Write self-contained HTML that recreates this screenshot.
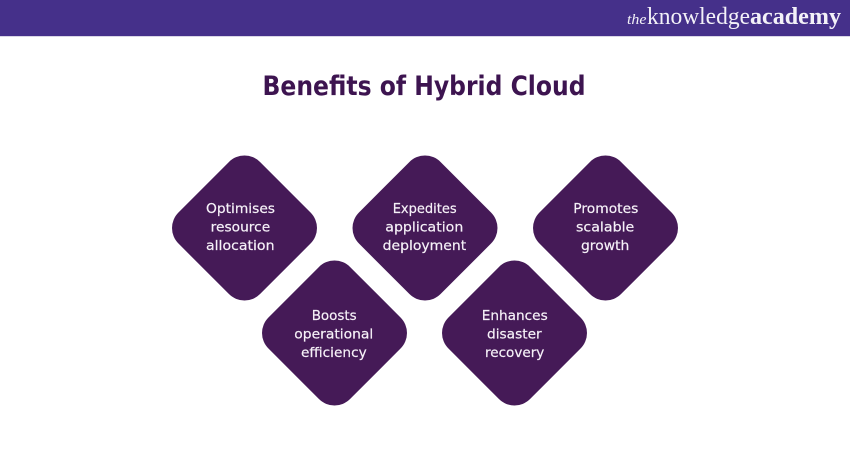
<!DOCTYPE html>
<html>
<head>
<meta charset="utf-8">
<style>
html,body{margin:0;padding:0;background:#fff;width:850px;height:450px;overflow:hidden}
svg{display:block}
.t{font-family:"DejaVu Sans","Liberation Sans",sans-serif;font-size:13.7px;fill:#f6f1f8;stroke:#f6f1f8;stroke-width:.2px}
.h{font-family:"DejaVu Sans","Liberation Sans",sans-serif;font-size:26.5px;font-weight:700;fill:#3d1450}
.l{font-family:"Liberation Serif",serif;fill:#f3f1f8}
</style>
</head>
<body>
<svg width="850" height="450" viewBox="0 0 850 450" xmlns="http://www.w3.org/2000/svg">
<rect width="850" height="450" fill="#fff"/>
<rect width="850" height="36" fill="#45308a"/>
<rect y="36" width="850" height="1" fill="#d9d6e6"/>
<text class="l" x="627" y="24" font-size="15" font-style="italic" textLength="19.5" lengthAdjust="spacingAndGlyphs">the</text>
<text class="l" x="647" y="24" font-size="24" textLength="103" lengthAdjust="spacingAndGlyphs">knowledge</text>
<text class="l" x="750" y="24" font-size="24" font-weight="700" textLength="91" lengthAdjust="spacingAndGlyphs">academy</text>

<text class="h" x="262.5" y="95" textLength="323" lengthAdjust="spacingAndGlyphs">Benefits of Hybrid Cloud</text>

<g fill="#451a57">
<rect x="-57.7" y="-57.7" width="115.4" height="115.4" rx="22" transform="translate(244.5 228) rotate(45)"/>
<rect x="-57.7" y="-57.7" width="115.4" height="115.4" rx="22" transform="translate(425 228) rotate(45)"/>
<rect x="-57.7" y="-57.7" width="115.4" height="115.4" rx="22" transform="translate(605.5 228) rotate(45)"/>
<rect x="-57.7" y="-57.7" width="115.4" height="115.4" rx="22" transform="translate(334.5 333) rotate(45)"/>
<rect x="-57.7" y="-57.7" width="115.4" height="115.4" rx="22" transform="translate(514.5 333) rotate(45)"/>
</g>

<text class="t" x="206" y="213" textLength="69" lengthAdjust="spacingAndGlyphs">Optimises</text>
<text class="t" x="210.7" y="231.5" textLength="59.5" lengthAdjust="spacingAndGlyphs">resource</text>
<text class="t" x="206" y="250" textLength="68.5" lengthAdjust="spacingAndGlyphs">allocation</text>

<text class="t" x="392.7" y="213" textLength="64" lengthAdjust="spacingAndGlyphs">Expedites</text>
<text class="t" x="385.3" y="231.5" textLength="78" lengthAdjust="spacingAndGlyphs">application</text>
<text class="t" x="382.7" y="250" textLength="83.5" lengthAdjust="spacingAndGlyphs">deployment</text>

<text class="t" x="573.3" y="213" textLength="65" lengthAdjust="spacingAndGlyphs">Promotes</text>
<text class="t" x="576" y="231.5" textLength="58.3" lengthAdjust="spacingAndGlyphs">scalable</text>
<text class="t" x="581" y="250" textLength="48.3" lengthAdjust="spacingAndGlyphs">growth</text>

<text class="t" x="311.7" y="320" textLength="45" lengthAdjust="spacingAndGlyphs">Boosts</text>
<text class="t" x="294.3" y="338.5" textLength="79" lengthAdjust="spacingAndGlyphs">operational</text>
<text class="t" x="301" y="357" textLength="65.7" lengthAdjust="spacingAndGlyphs">efficiency</text>

<text class="t" x="481.7" y="320" textLength="66" lengthAdjust="spacingAndGlyphs">Enhances</text>
<text class="t" x="487" y="338.5" textLength="54.7" lengthAdjust="spacingAndGlyphs">disaster</text>
<text class="t" x="485" y="357" textLength="59.3" lengthAdjust="spacingAndGlyphs">recovery</text>
</svg>
</body>
</html>
